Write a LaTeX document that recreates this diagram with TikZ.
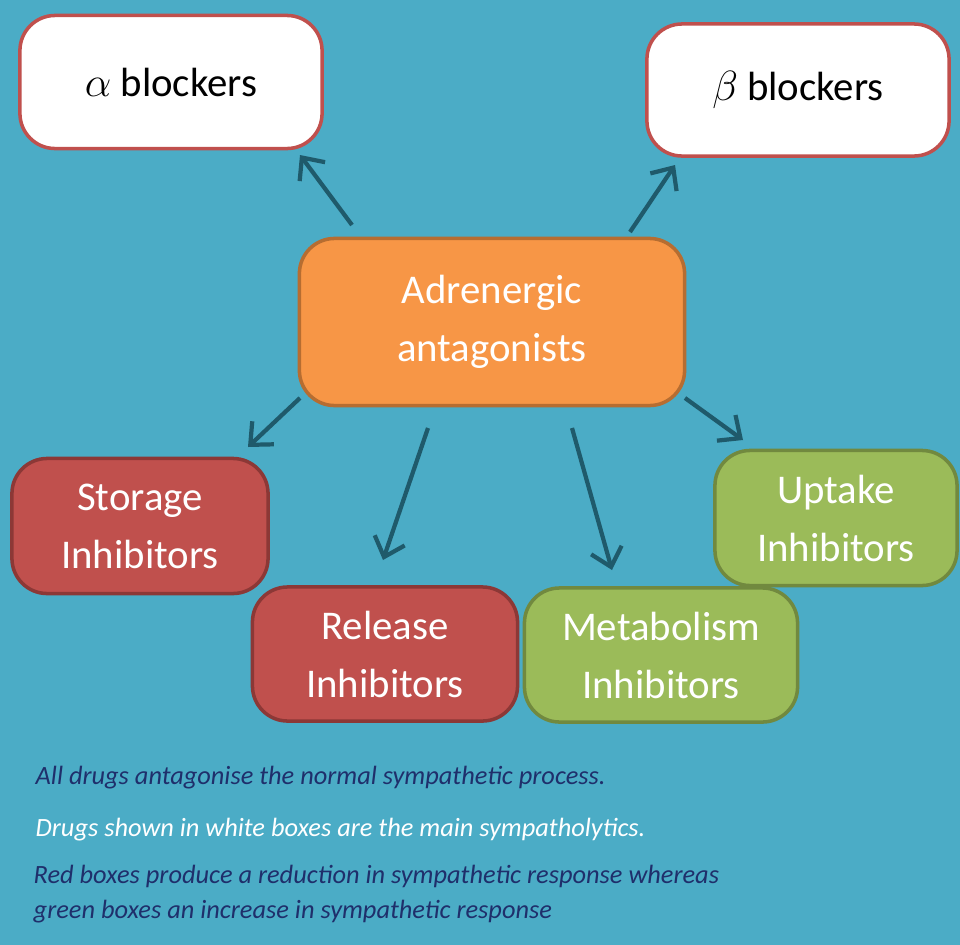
\documentclass[tikz,border=0pt]{standalone}
\usepackage{fontspec}
\usetikzlibrary{arrows.meta}
\setmainfont{Carlito}
\begin{document}
\begin{tikzpicture}[x=0.01cm,y=-0.01cm,
  box/.style={rounded corners=10pt,line width=1pt,inner sep=0pt,align=center,font=\fontsize{11.6}{16.5}\selectfont},
  arr/.style={draw=arrc,line width=1.2pt,-{Straight Barb[length=5pt,width=9pt]}},
  note/.style={anchor=west,inner sep=0pt,font=\fontsize{7.5}{9}\selectfont\itshape}]
\definecolor{bg}{HTML}{4BACC6}
\definecolor{arrc}{HTML}{1F5A6B}
\definecolor{redb}{HTML}{C0504D}
\definecolor{redd}{HTML}{8C3836}
\definecolor{orb}{HTML}{F79646}
\definecolor{ord}{HTML}{B66D31}
\definecolor{grb}{HTML}{9BBB59}
\definecolor{grd}{HTML}{71893F}
\definecolor{navy}{HTML}{1F2F6B}
\fill[bg] (0,0) rectangle (960,945);
\useasboundingbox (0,0) rectangle (960,945);
\node[box,draw=redb,fill=white,minimum width=3.02cm,minimum height=1.33cm] (a) at (171,82) {$\alpha$ blockers};
\node[box,draw=redb,fill=white,minimum width=3.02cm,minimum height=1.32cm] (b) at (798,90) {$\beta$ blockers};
\node[box,draw=ord,fill=orb,text=white,minimum width=3.85cm,minimum height=1.67cm] (c) at (492,322) {Adrenergic\\antagonists};
\node[box,draw=redd,fill=redb,text=white,minimum width=2.56cm,minimum height=1.35cm] (s) at (140,526) {Storage\\Inhibitors};
\node[box,draw=redd,fill=redb,text=white,minimum width=2.65cm,minimum height=1.34cm] (r) at (385,654) {Release\\Inhibitors};
\node[box,draw=grd,fill=grb,text=white,minimum width=2.73cm,minimum height=1.34cm] (m) at (661,655) {Metabolism\\Inhibitors};
\node[box,draw=grd,fill=grb,text=white,minimum width=2.42cm,minimum height=1.35cm] (u) at (836,518) {Uptake\\Inhibitors};
\coordinate (a1) at (352,225); \coordinate (a2) at (300,155);
\coordinate (b1) at (630,232); \coordinate (b2) at (675,165);
\coordinate (s1) at (300,398); \coordinate (s2) at (248,447);
\coordinate (r1) at (428,428); \coordinate (r2) at (383,560);
\coordinate (m1) at (572,428); \coordinate (m2) at (612,570);
\coordinate (u1) at (685,398); \coordinate (u2) at (743,440);
\foreach \p in {a,b,s,r,m,u} \draw[arr] (\p1) -- (\p2);
\node[note,text=navy] (n1) at (35,778) {All drugs antagonise the normal sympathetic process.};
\node[note,text=white] (n2) at (35,830) {Drugs shown in white boxes are the main sympatholytics.};
\node[note,text=navy] (n3) at (33,876) {Red boxes produce a reduction in sympathetic response whereas};
\node[note,text=navy] (n4) at (33,912) {green boxes an increase in sympathetic response};
\end{tikzpicture}
\end{document}
